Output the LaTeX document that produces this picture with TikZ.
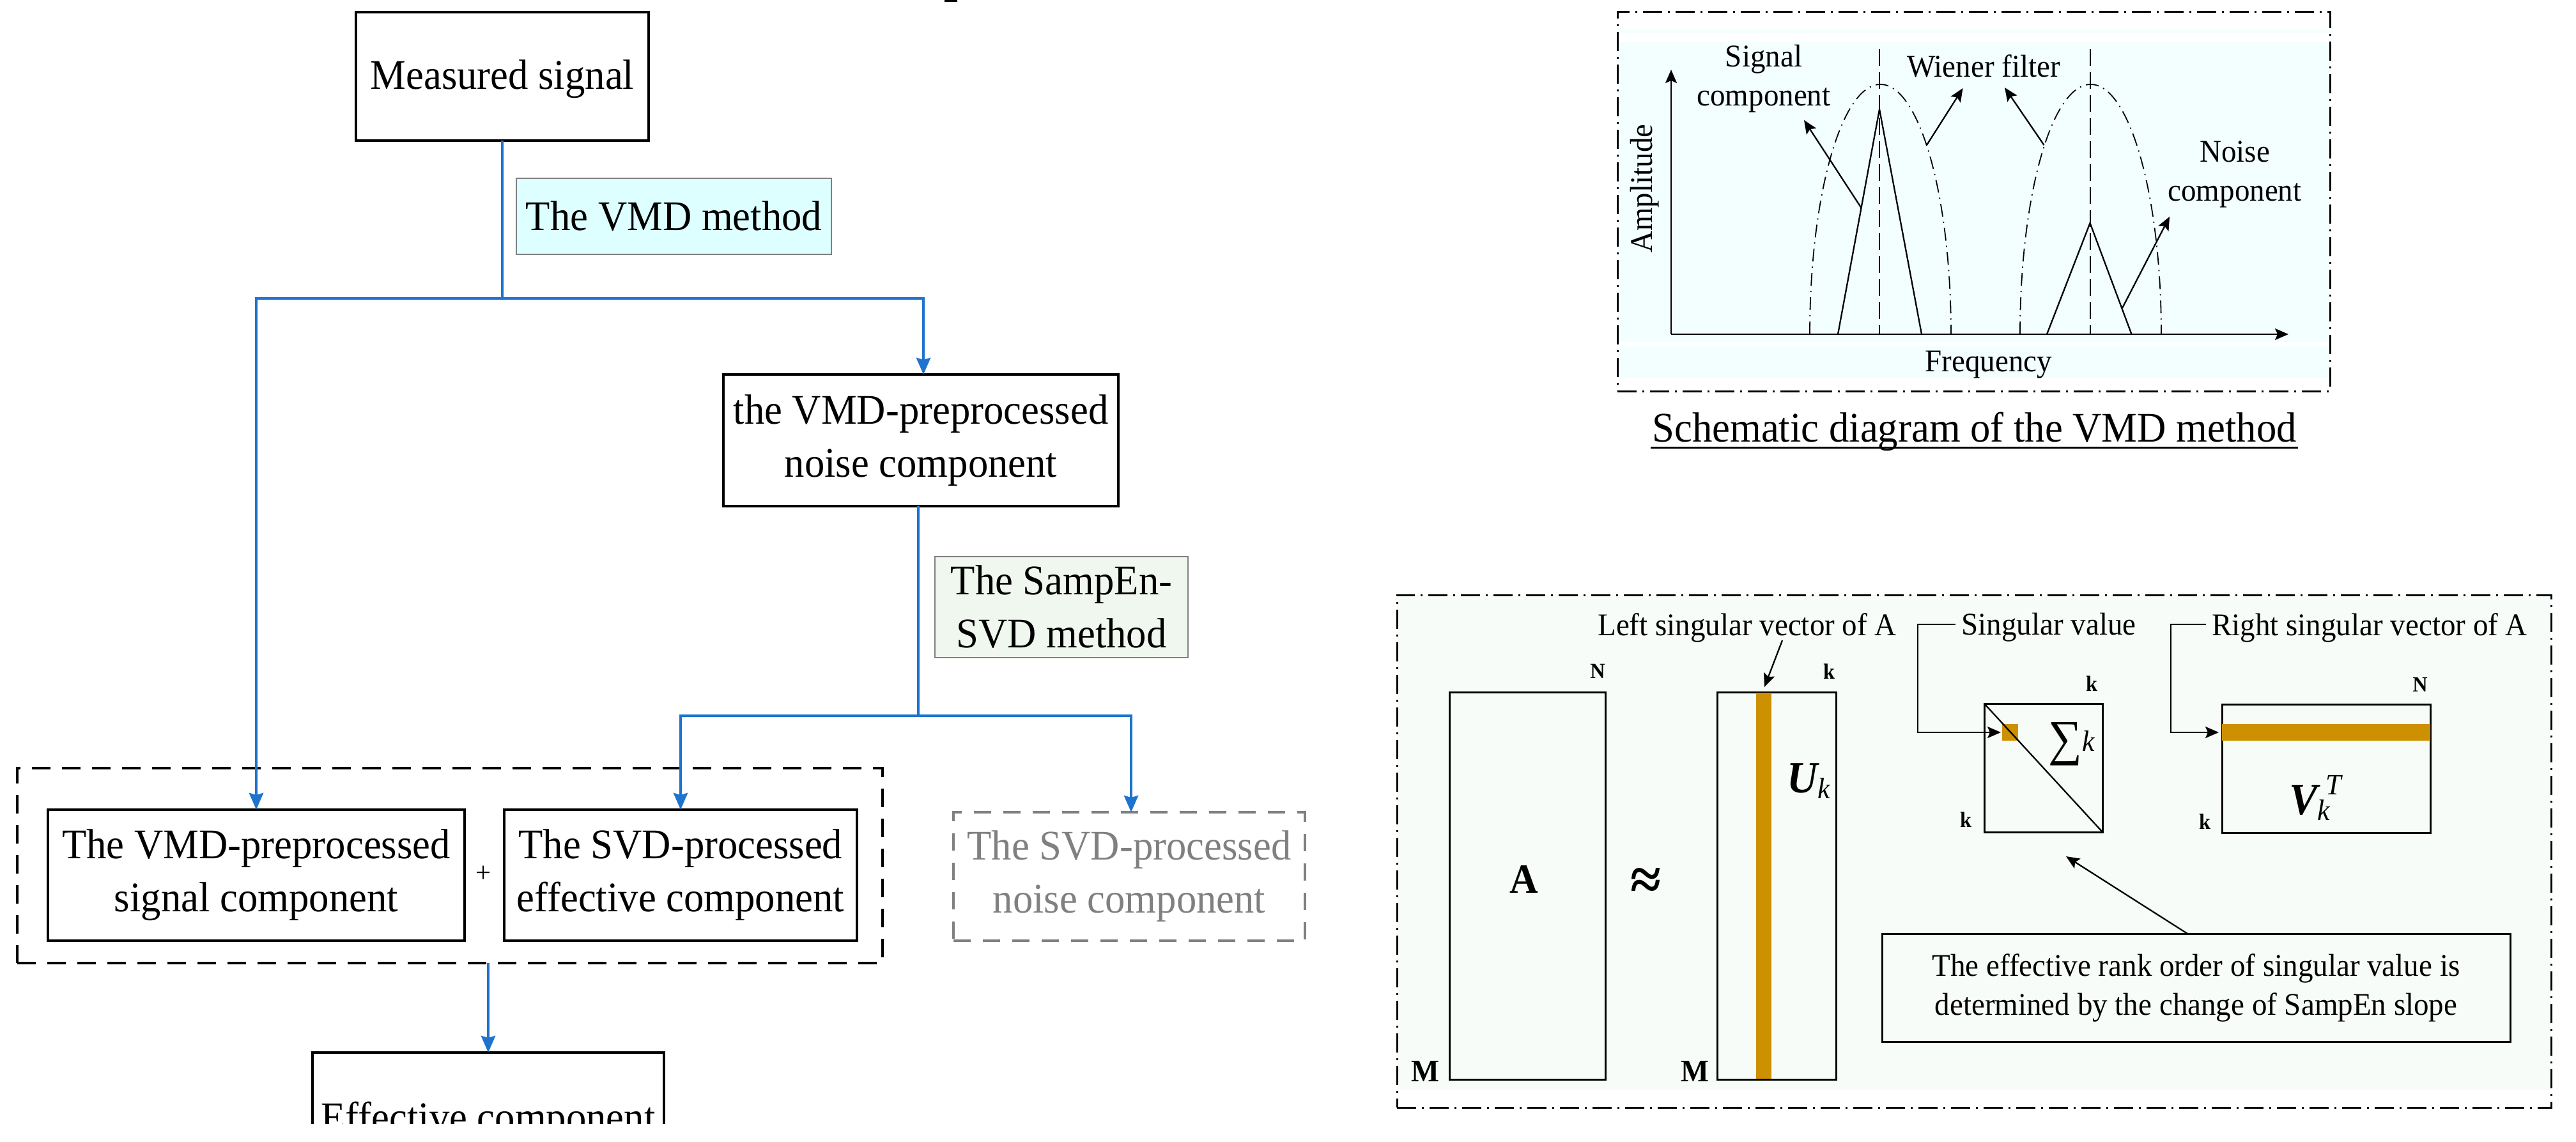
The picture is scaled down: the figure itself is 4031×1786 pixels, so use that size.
\documentclass[tikz,border=0pt]{standalone}
\usepackage{fontspec}
\setmainfont[FakeStretch=0.95]{Liberation Serif}
\usetikzlibrary{arrows.meta}
\definecolor{flowblue}{HTML}{1E73CE}
\definecolor{labcyan}{HTML}{DDFFFF}
\definecolor{labgreen}{HTML}{F0F7EE}
\definecolor{pancyan}{HTML}{F3FFFF}
\definecolor{pangreen}{HTML}{F8FCF8}
\definecolor{barbrown}{HTML}{CC9000}
\definecolor{midgrey}{HTML}{808080}
\tikzset{
  big/.style={font=\fontsize{66}{83}\selectfont, align=center, inner sep=0pt},
  small/.style={font=\fontsize{49.5}{61}\selectfont, align=center, inner sep=0pt},
  dim/.style={font=\fontsize{34}{34}\selectfont\bfseries, inner sep=0pt},
  dimM/.style={font=\fontsize{49}{49}\selectfont\bfseries, inner sep=0pt},
  box/.style={big, draw=black, line width=4.5pt, outer sep=0pt, execute at begin node={\rule{0pt}{55pt}}},
  tag/.style={big, draw=midgrey, line width=2pt, outer sep=0pt},
  mat/.style={draw=black, line width=3pt, outer sep=0pt, inner sep=0pt},
  frame/.style={draw=black, line width=3pt, outer sep=0pt, dash pattern=on 30pt off 9pt on 3pt off 9pt},
  flow/.style={draw=flowblue, line width=4.5pt},
  flowtip/.style={flow, -{Stealth[length=26pt,width=22pt,inset=3pt]}},
  thin/.style={draw=black, line width=2.3pt},
  tip/.style={thin, -{Stealth[length=21pt,width=18pt,inset=4pt]}},
  arch/.style={thin, line width=1.8pt, dash pattern=on 20pt off 8pt on 2pt off 8pt},
  peak/.style={thin, line width=2pt, dash pattern=on 26pt off 10pt},
}
\begin{document}
\begin{tikzpicture}[x=1pt,y=-1pt]
\useasboundingbox (0,0) rectangle (4031,1786);

% stray mark on the top edge
\fill[black] (1478,0) rectangle (1498,3);

% flow chart
\node (meas) [box, minimum width=458pt, minimum height=201pt] at (786,119.5) {Measured signal};
\node (vmdtag) [tag, fill=labcyan, minimum width=493pt, minimum height=119pt] at (1054.5,338.5) {The VMD method};
\node (noise) [box, minimum width=618pt, minimum height=206pt] at (1441,689) {the VMD-preprocessed\\noise component};
\node (samptag) [tag, fill=labgreen, minimum width=396pt, minimum height=158pt] at (1661,950) {The SampEn-\\SVD method};
\node (grp) [draw=black, line width=4pt, dash pattern=on 29pt off 18pt, minimum width=1354pt, minimum height=305pt, outer sep=0pt] at (704,1354.5) {};
\node (sig) [box, minimum width=652pt, minimum height=205pt] at (401,1369.5) {The VMD-preprocessed\\signal component};
\node (svd) [box, minimum width=552pt, minimum height=205pt] at (1065,1369.5) {The SVD-processed\\effective component};
\node (plus) [font=\fontsize{45}{45}\selectfont, inner sep=0pt] at (757,1368) {+};
\node (gry) [box, draw=midgrey, text=midgrey, line width=4pt, dash pattern=on 27pt off 19pt, minimum width=550pt, minimum height=201pt] at (1767,1371.5) {The SVD-processed\\noise component};
\begin{scope}
  \clip (0,0) rectangle (4031,1758);
  \node (eff) [box, minimum width=550pt, minimum height=206pt] at (764,1750) {Effective component};
\end{scope}

\coordinate (j1) at (786,467);
\coordinate (j2) at (1437,1120);
\draw[flow] (meas) -- (j1);
\draw[flowtip] (j1) -| (sig.north);
\draw[flowtip] (j1) -| ([xshift=4pt]noise.north);
\draw[flow] (j2 |- noise.south) -- (j2);
\draw[flowtip] (j2) -| (svd.north);
\draw[flowtip] (j2) -| ([xshift=3pt]gry.north);
\draw[flowtip] (eff.north |- grp.south) -- (eff.north);

% VMD panel
\fill[pancyan] (2531,46) rectangle (3646,52);
\fill[pancyan] (2531,66) rectangle (3646,535);
\fill[pancyan] (2531,542) rectangle (3646,591);
\node (vmdframe) [frame, minimum width=1115pt, minimum height=594pt] at (3088.5,315) {};

\coordinate (o) at (2615,523);
\coordinate (ytop) at (2615,109);
\coordinate (xend) at (3581,523);
\draw[arch] (2832,523) arc[start angle=180, end angle=0, x radius=110.5pt, y radius=391pt];
\draw[arch] (3161,523) arc[start angle=180, end angle=0, x radius=110.5pt, y radius=391pt];
\draw[peak] (2941,77) -- (2941,523);
\draw[peak] (3270.5,77) -- (3270.5,523);
\draw[thin] (2876,523) -- (2941,171) -- (3007,523);
\draw[thin] (3203,523) -- (3270.5,349) -- (3335.5,523);
\draw[tip] (o) -- (ytop);
\draw[tip] (o) -- (xend);

\node (nsig) [small] at (2760,123) {Signal\\component};
\node (nwien) [small] at (3104,103) {Wiener filter};
\node (nnoi) [small] at (3497,273) {Noise\\component};
\node (namp) [small, rotate=90] at (2574,295) {Amplitude};
\node (nfreq) [small] at (3112,571) {Frequency};
\draw[tip] (2913,326) -- (2823,188);
\draw[tip] (3015,227) -- (3071.5,138);
\draw[tip] (3198.5,227) -- (3137,137);
\draw[tip] (3321,482) -- (3395,339);

\node (title) [big, anchor=base] at (3089.5,691) {Schematic diagram of the VMD method};
\draw[draw=black, line width=3pt] (2583,700) -- (3596,700);

% SVD panel
\fill[pangreen] (2186,931) rectangle (3992,1705);
\node (svdframe) [frame, minimum width=1806pt, minimum height=802pt] at (3089,1332) {};

\node (ma) [mat, minimum width=244pt, minimum height=606pt] at (2390,1386) {};
\node (mu) [mat, minimum width=186pt, minimum height=606pt] at (2780,1386) {};
\fill[barbrown] (2748,1084) rectangle (2772,1688);
\node (ms) [mat, minimum width=185pt, minimum height=201pt] at (3197.5,1201.5) {};
\fill[barbrown] (3133,1133) rectangle (3158,1159);
\draw[thin] (ms.north west) -- (ms.south east);
\node (mv) [mat, minimum width=326pt, minimum height=201pt] at (3640,1202.5) {};
\fill[barbrown] (3477,1133) rectangle (3803,1159);

\node (la) [font=\fontsize{65}{65}\selectfont\bfseries, inner sep=0pt] at (2385,1376) {A};
\node (approx) [font=\fontsize{92}{92}\selectfont\bfseries, inner sep=0pt] at (2575,1383) {≈};
\node (lu) [font=\fontsize{70}{70}\selectfont, inner sep=0pt, anchor=base west] at (2796,1240) {{\bfseries\itshape U}\raisebox{-9pt}{\fontsize{46}{46}\selectfont\itshape k}};
\node (lsig) [font=\fontsize{78}{78}\selectfont, inner sep=0pt, anchor=base west] at (3205,1181) {∑\raisebox{6pt}{\fontsize{46}{46}\selectfont\itshape k}};
\node (lv) [font=\fontsize{70}{70}\selectfont, inner sep=0pt, anchor=base west] at (3582,1274) {{\bfseries\itshape V}\raisebox{-9pt}{\fontsize{46}{46}\selectfont\itshape k}\hspace{-6pt}\raisebox{31pt}{\fontsize{46}{46}\selectfont\itshape T}};

\node (dn1) [dim] at (2500,1050) {N};
\node (dk1) [dim] at (2862,1051) {k};
\node (dk2) [dim] at (3273,1070) {k};
\node (dk3) [dim] at (3076,1283) {k};
\node (dn2) [dim] at (3787,1071) {N};
\node (dk4) [dim] at (3450,1286) {k};
\node (dm1) [dimM] at (2230.5,1676) {M};
\node (dm2) [dimM] at (2652,1676) {M};

\node (lleft) [small] at (2734,982) {Left singular vector of A};
\node (lval) [small] at (3206,982) {Singular value};
\node (lright) [small] at (3708,982) {Right singular vector of A};
\draw[tip] (2789,1002) -- (2761,1075);
\coordinate (e1) at (3001,977);
\coordinate (e2) at (3397,977);
\coordinate (s1) at (3131,1146);
\coordinate (s2) at (3472,1146);
\draw[tip] (3060,977) -- (e1) |- (s1);
\draw[tip] (3452,977) -- (e2) |- (s2);

\node (note) [mat, small, minimum width=983pt, minimum height=169pt] at (3436.5,1545.5) {The effective rank order of singular value is\\determined by the change of SampEn slope};
\draw[tip] (3423,1461) -- (3233,1340);
\end{tikzpicture}
\end{document}
